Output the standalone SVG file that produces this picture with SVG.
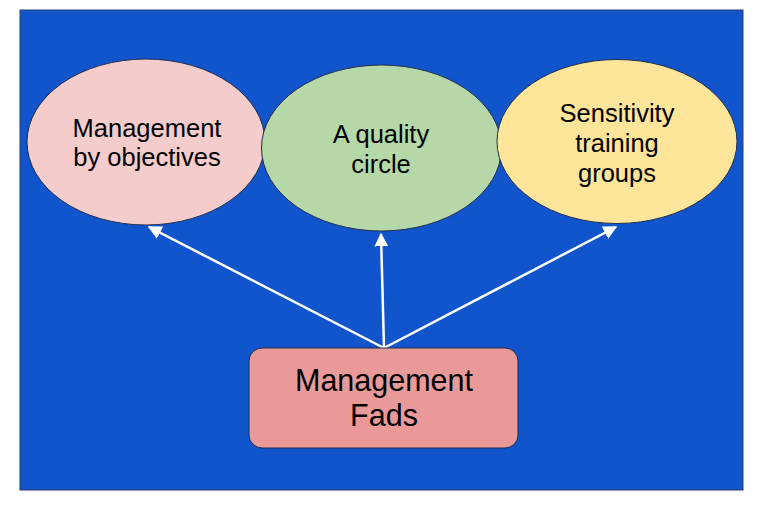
<svg xmlns="http://www.w3.org/2000/svg" width="768" height="512" viewBox="0 0 768 512">
<defs>
<style>
.node{stroke:#1f2d4d;stroke-width:1}
.lbl{font-family:"Liberation Sans",Arial,sans-serif;font-size:25.5px;fill:#000;text-anchor:middle}
.big{font-size:30.5px}
.conn{stroke:#fff;stroke-width:2.5;fill:none;marker-end:url(#ah)}
</style>
<marker id="ah" viewBox="0 0 10 10" refX="9" refY="5" markerWidth="5.5" markerHeight="5.5" orient="auto" markerUnits="strokeWidth">
<path d="M0,0 L10,5 L0,10 z" fill="#fff"/>
</marker>
</defs>
<rect width="768" height="512" fill="#fff"/>
<rect x="20" y="10" width="723" height="480" fill="#1155cc" stroke="#2a3f6e" stroke-width="1"/>
<g id="connectors">
<line class="conn" x1="384" y1="348" x2="149" y2="227"/>
<line class="conn" x1="384" y1="348" x2="381" y2="234"/>
<line class="conn" x1="384" y1="348" x2="616" y2="227"/>
</g>
<g id="mbo">
<ellipse class="node" cx="146" cy="142" rx="119" ry="83" fill="#f4cccc"/>
<text class="lbl" x="147" y="137">Management</text>
<text class="lbl" x="147" y="166">by objectives</text>
</g>
<g id="quality">
<ellipse class="node" cx="381.5" cy="148" rx="120" ry="83" fill="#b6d7a8"/>
<text class="lbl" x="381" y="143">A quality</text>
<text class="lbl" x="381" y="173">circle</text>
</g>
<g id="sensitivity">
<ellipse class="node" cx="617" cy="141.5" rx="120" ry="82" fill="#ffe599"/>
<text class="lbl" x="617" y="122">Sensitivity</text>
<text class="lbl" x="617" y="152">training</text>
<text class="lbl" x="617" y="182">groups</text>
</g>
<g id="fads">
<rect class="node" x="249" y="348" width="269" height="100" rx="13" fill="#ea9999"/>
<text class="lbl big" x="384" y="391">Management</text>
<text class="lbl big" x="384" y="426">Fads</text>
</g>
</svg>
